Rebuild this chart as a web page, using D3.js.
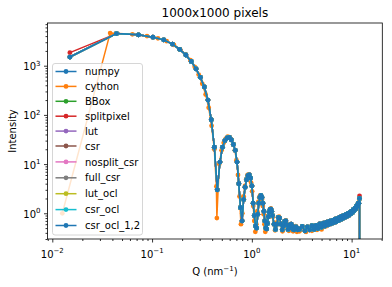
<!DOCTYPE html>
<html>
<head>
<meta charset="utf-8">
<script src="https://cdn.jsdelivr.net/npm/d3@7"></script>
<style>
  body { margin: 0; background: #fff; }
  svg { display: block; font-family: "DejaVu Sans", sans-serif; }
</style>
</head>
<body>
<div class="chart"></div>
<script>
// legend order = drawing order
const seriesNames = ["numpy", "cython", "BBox", "splitpixel", "lut", "csr",
  "nosplit_csr", "full_csr", "lut_ocl", "csr_ocl", "csr_ocl_1,2"];

// q (nm^-1) and intensity, numpy and the like
const qNumpy = [0.015, 0.044, 0.073, 0.102, 0.131, 0.160, 0.189, 0.218, 0.247, 0.276,
  0.305, 0.334, 0.363, 0.392, 0.421, 0.450, 0.479, 0.508, 0.537, 0.566,
  0.595, 0.624, 0.653, 0.682, 0.711, 0.740, 0.769, 0.798, 0.827, 0.856,
  0.885, 0.914, 0.943, 0.972, 1.001, 1.030, 1.059, 1.088, 1.117, 1.146,
  1.175, 1.204, 1.233, 1.262, 1.291, 1.320, 1.349, 1.378, 1.407, 1.436,
  1.465, 1.494, 1.523, 1.552, 1.581, 1.610, 1.668, 1.726, 1.784, 1.842,
  1.900, 1.958, 2.016, 2.074, 2.132, 2.190, 2.248, 2.306, 2.364, 2.422,
  2.480, 2.538, 2.596, 2.654, 2.712, 2.770, 2.828, 2.886, 2.944, 3.0,
  3.2, 3.4, 3.6, 3.8, 4.0, 4.2, 4.4, 4.6, 4.8, 5.0,
  5.2, 5.4, 5.6, 5.8, 6.0, 6.2, 6.4, 6.6, 6.8, 7.0,
  7.2, 7.4, 7.6, 7.8, 8.0, 8.2, 8.4, 8.6, 8.8, 9.0,
  9.2, 9.4, 9.6, 9.8, 10.0, 10.2, 10.4, 10.6, 10.8, 11.0,
  11.2, 11.4, 11.6, 11.8, 12.0, 12.0];
const iNumpy = [1500, 4500, 4250, 3800, 3350, 2750, 2150, 1650, 1220, 860,
  580, 370, 200, 80, 22, 3.0, 11, 22, 30, 34,
  35, 31, 25, 19, 11, 4.0, 1.3, 0.70, 1.9, 3.4,
  4.8, 5.8, 6.0, 5.2, 3.6, 1.6, 0.9, 0.55, 0.50, 0.95,
  1.6, 2.1, 2.3, 2.1, 1.6, 1.1, 0.7, 0.5, 0.48, 0.62,
  0.85, 1.05, 1.2, 1.22, 1.1, 0.9, 0.6, 0.47, 0.6, 0.82,
  0.8, 0.6, 0.46, 0.55, 0.68, 0.7, 0.58, 0.47, 0.5, 0.58,
  0.6, 0.55, 0.47, 0.46, 0.5, 0.53, 0.5, 0.46, 0.48, 0.47,
  0.54, 0.44, 0.53, 0.46, 0.56, 0.47, 0.57, 0.49, 0.61, 0.52,
  0.63, 0.55, 0.66, 0.58, 0.69, 0.61, 0.72, 0.64, 0.76, 0.67,
  0.79, 0.71, 0.83, 0.75, 0.87, 0.79, 0.91, 0.83, 0.95, 0.87,
  0.99, 0.91, 1.04, 0.97, 1.1, 1.04, 1.18, 1.12, 1.27, 1.22,
  1.41, 1.37, 1.58, 1.6, 2.0, 0];

// cython has its own binning
const qCython = [0.0126, 0.038, 0.0635, 0.089, 0.1145, 0.140, 0.1655, 0.191, 0.2165, 0.242,
  0.2675, 0.293, 0.3185, 0.344, 0.3695, 0.395, 0.4205, 0.441, 0.446, 0.4715,
  0.497, 0.5225, 0.548, 0.5735, 0.599, 0.6245, 0.650, 0.6755, 0.701, 0.7265,
  0.752, 0.7775, 0.803, 0.8285, 0.854, 0.8795, 0.905, 0.9305, 0.956, 0.9815,
  1.007, 1.0325, 1.058, 1.0835, 1.109, 1.1345, 1.160, 1.1855, 1.211, 1.2365,
  1.262, 1.2875, 1.313, 1.3385, 1.364, 1.39, 1.47, 1.55, 1.63, 1.71,
  1.79, 1.87, 1.95, 2.03, 2.11, 2.19, 2.27, 2.35, 2.43, 2.51,
  2.59, 2.67, 2.75, 2.83, 2.91, 3.0, 3.25, 3.5, 3.75, 4.0,
  4.25, 4.5, 4.75, 5.0, 5.25, 5.5, 5.75, 6.0, 6.25, 6.5,
  6.75, 7.0, 7.25, 7.5, 7.75, 8.0, 8.25, 8.5, 8.75, 9.0,
  9.25, 9.5, 9.75, 10.0, 10.25, 10.5, 10.75, 11.0, 11.25, 11.5,
  11.75, 11.95, 12.0];
const iCython = [1.0, 4600, 4350, 4000, 3600, 3150, 2650, 2150, 1700, 1300,
  950, 660, 430, 260, 140, 60, 20, 3.5, 0.8, 10,
  19, 27, 33, 36, 35, 31, 25, 19, 12, 6,
  2.2, 0.6, 1.0, 2.2, 3.6, 4.9, 6.0, 6.1, 5.4, 4.2,
  2.8, 1.4, 0.7, 0.42, 0.6, 1.1, 1.7, 2.1, 2.3, 2.2,
  1.9, 1.4, 0.95, 0.6, 0.42, 0.5, 0.9, 1.25, 0.85, 0.45,
  0.65, 0.85, 0.62, 0.43, 0.62, 0.72, 0.52, 0.44, 0.6, 0.58,
  0.43, 0.47, 0.55, 0.42, 0.5, 0.43, 0.52, 0.42, 0.5, 0.44,
  0.54, 0.46, 0.58, 0.47, 0.6, 0.54, 0.64, 0.6, 0.7, 0.64,
  0.74, 0.68, 0.78, 0.74, 0.82, 0.8, 0.88, 0.84, 0.94, 0.9,
  1.0, 0.97, 1.05, 1.06, 1.12, 1.15, 1.25, 1.28, 1.38, 1.5,
  1.62, 1.9, 0];

// splitpixel differs from numpy at the first bin and at the last peak
const splitpixelFirst = 1840;
const splitpixelLastPeak = 2.25;

const xMajor = [0.01, 0.1, 1, 10];
const yMajor = [1, 10, 100, 1000];

const colors = ["#1f77b4", "#ff7f0e", "#2ca02c", "#d62728", "#9467bd", "#8c564b",
  "#e377c2", "#7f7f7f", "#bcbd22", "#17becf", "#1f77b4"];

function seriesPoints(name) {
  if (name === "cython") return qCython.map((q, i) => [q, iCython[i]]);
  let vals = iNumpy;
  if (name === "splitpixel") {
    vals = iNumpy.slice();
    vals[0] = splitpixelFirst;
    vals[vals.length - 2] = splitpixelLastPeak;
  }
  return qNumpy.map((q, i) => [q, vals[i]]);
}

const W = 392, H = 287;
const plot = { left: 47.5, right: 382.3, top: 23, bottom: 239 };

const svg = d3.select(".chart").append("svg")
  .attr("width", W).attr("height", H)
  .attr("viewBox", `0 0 ${W} ${H}`);

const x = d3.scaleLog().domain([0.00895, 20.3]).range([plot.left, plot.right]);
const y = d3.scaleLog().domain([0.30, 7380]).range([plot.bottom, plot.top]);

svg.append("defs").append("clipPath").attr("id", "clip")
  .append("rect")
  .attr("x", plot.left).attr("y", plot.top)
  .attr("width", plot.right - plot.left).attr("height", plot.bottom - plot.top);

// zero intensity goes off the bottom like matplotlib does
const yv = v => y(Math.max(v, 1e-3));
const line = d3.line().x(d => x(d[0])).y(d => yv(d[1]));

const data = svg.append("g").attr("clip-path", "url(#clip)");
seriesNames.forEach((name, k) => {
  const pts = seriesPoints(name);
  const g = data.append("g").attr("class", "series");
  g.append("path")
    .attr("d", line(pts))
    .attr("fill", "none")
    .attr("stroke", colors[k])
    .attr("stroke-width", 1.5)
    .attr("stroke-linejoin", "round");
  g.selectAll("circle")
    .data(pts.filter(d => d[1] > 0))
    .enter().append("circle")
    .attr("cx", d => x(d[0]))
    .attr("cy", d => yv(d[1]))
    .attr("r", 2.4)
    .attr("fill", colors[k]);
});

// minor ticks 2..9 per decade
function minors(lo, hi) {
  const out = [];
  for (let e = Math.floor(Math.log10(lo)); e <= Math.ceil(Math.log10(hi)); e++) {
    for (let m = 2; m <= 9; m++) {
      const v = m * Math.pow(10, e);
      if (v >= lo && v <= hi) out.push(v);
    }
  }
  return out;
}

function sup(sel, e) {
  sel.text(null);
  sel.append("tspan").text("10");
  sel.append("tspan").attr("font-size", 7).attr("dy", -4.5)
    .text(String(e).replace("-", "\u2212"));
}

const xAxis = svg.append("g").attr("transform", `translate(0,${plot.bottom})`);
xAxis.call(d3.axisBottom(x).tickValues(xMajor).tickSize(3.5).tickFormat(""));
xAxis.append("g").call(d3.axisBottom(x).tickValues(minors(...x.domain())).tickSize(2).tickFormat(""));
const yAxis = svg.append("g").attr("transform", `translate(${plot.left},0)`);
yAxis.call(d3.axisLeft(y).tickValues(yMajor).tickSize(3.5).tickFormat(""));
yAxis.append("g").call(d3.axisLeft(y).tickValues(minors(...y.domain())).tickSize(2).tickFormat(""));
svg.selectAll(".domain").remove();
svg.selectAll(".tick line").attr("stroke", "#000").attr("stroke-width", 0.8);

svg.append("g").selectAll("text").data(xMajor).enter().append("text")
  .attr("x", d => x(d)).attr("y", 257.5)
  .attr("text-anchor", "middle").attr("font-size", 10).attr("fill", "#000")
  .each(function (d) { sup(d3.select(this), Math.round(Math.log10(d))); });

svg.append("g").selectAll("text").data(yMajor).enter().append("text")
  .attr("x", plot.left - 7).attr("y", d => y(d) + 4.5)
  .attr("text-anchor", "end").attr("font-size", 10).attr("fill", "#000")
  .each(function (d) { sup(d3.select(this), Math.round(Math.log10(d))); });

// spines
svg.append("rect")
  .attr("x", plot.left).attr("y", plot.top)
  .attr("width", plot.right - plot.left).attr("height", plot.bottom - plot.top)
  .attr("fill", "none").attr("stroke", "#000").attr("stroke-width", 0.8);

// title and axis names
svg.append("text")
  .attr("x", (plot.left + plot.right) / 2).attr("y", 16.5)
  .attr("text-anchor", "middle").attr("font-size", 12)
  .text("1000x1000 pixels");

const xl = svg.append("text")
  .attr("x", (plot.left + plot.right) / 2).attr("y", 275)
  .attr("text-anchor", "middle").attr("font-size", 10);
xl.append("tspan").text("Q (nm");
xl.append("tspan").attr("font-size", 7).attr("dy", -4.5).text("\u22121");
xl.append("tspan").attr("dy", 4.5).text(")");

svg.append("text")
  .attr("transform", `translate(15.5,${(plot.top + plot.bottom) / 2}) rotate(-90)`)
  .attr("text-anchor", "middle").attr("font-size", 10)
  .text("Intensity");

// legend
const legend = svg.append("g").attr("class", "legend");
legend.append("rect")
  .attr("x", 52.5).attr("y", 63.5).attr("width", 90).attr("height", 171.5)
  .attr("rx", 2.5)
  .attr("fill", "#fff").attr("fill-opacity", 0.8)
  .attr("stroke", "#cccccc").attr("stroke-width", 0.8);
const rowY = i => 71.5 + i * 14.9 + (i > 5 ? (i - 5) * 1.0 : 0);
const rows = legend.selectAll("g.row").data(seriesNames).enter().append("g")
  .attr("class", "row")
  .attr("transform", (d, i) => `translate(0,${rowY(i)})`);
rows.append("line")
  .attr("x1", 55.5).attr("x2", 76.5).attr("y1", 0).attr("y2", 0)
  .attr("stroke", (d, i) => colors[i]).attr("stroke-width", 1.5);
rows.append("circle")
  .attr("cx", 66).attr("cy", 0).attr("r", 2.4)
  .attr("fill", (d, i) => colors[i]);
rows.append("text")
  .attr("x", 85).attr("y", 3.6)
  .attr("font-size", 10)
  .text(d => d);
</script>
</body>
</html>
